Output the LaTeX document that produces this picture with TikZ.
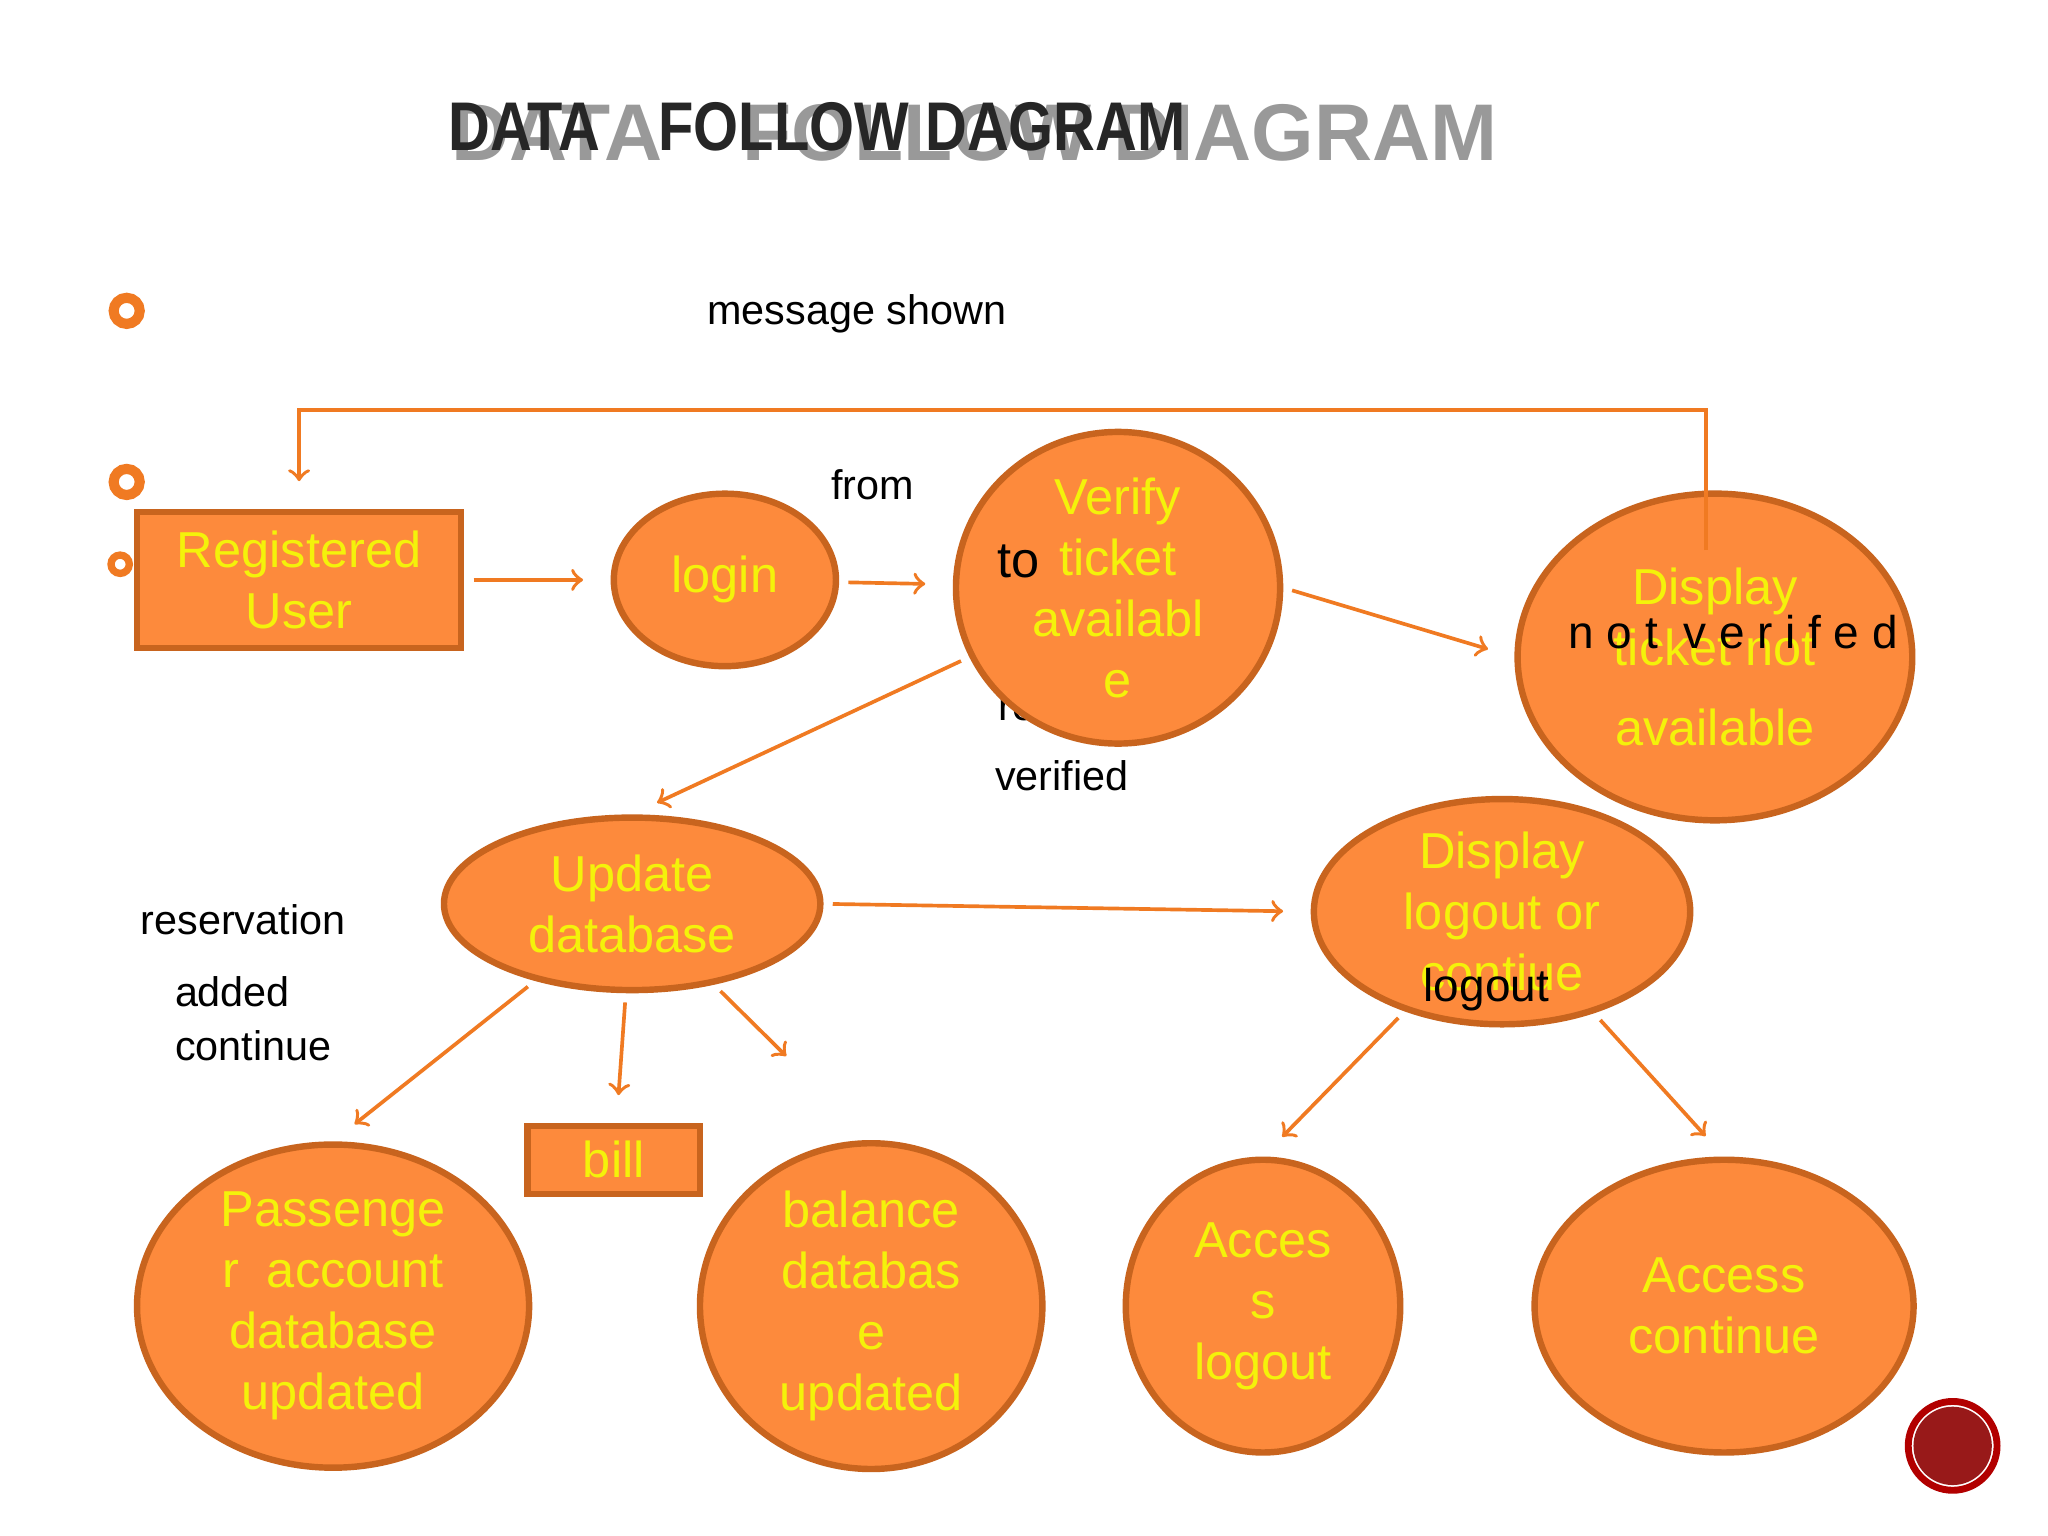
\documentclass[tikz,border=0pt]{standalone}
\usepackage{fontspec}
\setmainfont{Liberation Sans}
\usetikzlibrary{arrows,calc,shapes.geometric}
\definecolor{boxfill}{HTML}{FD8A3C}
\definecolor{boxline}{HTML}{C8641E}
\definecolor{flowline}{HTML}{F07A22}
\definecolor{boxtext}{HTML}{F4F20A}
\begin{document}
\begin{tikzpicture}[x=0.01cm, y=-0.01cm,
		every node/.style={font=\fontsize{11}{13.3}\selectfont},
		blob/.style={ellipse, fill=boxfill, draw=boxline, line width=1.4pt, text=boxtext, align=center, inner sep=0pt},
		slab/.style={rectangle, fill=boxfill, draw=boxline, line width=1.4pt, text=boxtext, align=center, inner sep=0pt},
		flow/.style={draw=flowline, line width=0.8pt, -to, shorten >=6pt, shorten <=2pt},
		note/.style={font=\fontsize{9}{11}\selectfont, text=black}]
			\fill[white] (0,0) rectangle (1568,1176);
			\useasboundingbox (0,0) rectangle (1568,1176);

			% title
			\node[text=gray!80, font=\fontsize{17.5}{18}\bfseries\selectfont, anchor=west] (titleB) at (333,102) {DATA\quad FOLLOW DIAGRAM};
			\node[text=black!85, font=\fontsize{15}{15}\bfseries\selectfont, anchor=west, xscale=0.84] (titleA) at (333,97) {DATA\quad FOLLOW DAGRAM};

			% bullets
			\draw[flowline, line width=2.2pt] (97,238) circle [radius=10];
			\draw[flowline, line width=2.2pt] (97,369) circle [radius=10];
			\draw[flowline, line width=1.6pt] (92,432) circle [radius=7];

			% notes behind the shapes
			\node[note] (tMsg) at (656,240) {message shown};
			\node[note] (tFrom) at (668,371) {from};
			\node[note] (tResv) at (843,540) {reservation};
			\node[note] (tVerified) at (813,594) {verified};
			\node[note] (tResv2) at (186,704) {reservation};
			\node[note] (tAdded) at (178,759) {added};
			\node[note] (tCont) at (194,801) {continue};

			% shapes
			\node[slab, minimum width=2.48cm, minimum height=1.04cm] (regUser) at (229,444) {Registered\\User};
			\node[blob, minimum width=1.70cm, minimum height=1.32cm] (login) at (555,444) {login};
			\node[blob, minimum width=2.48cm, minimum height=1.96cm] (verify) at (856,450) {Verify\\ ticket\\ availabl\\e};
			\node[blob, minimum width=3.02cm, minimum height=2.50cm] (notAvail) at (1313,503) {Display\\ ticket not\\[4pt] available};
			\node[blob, minimum width=2.88cm, minimum height=1.32cm] (update) at (484,692) {Update\\database};
			\node[blob, minimum width=2.88cm, minimum height=1.44cm] (logCont) at (1150,698) {Display\\logout or\\contiue};
			\node[blob, minimum width=3.00cm, minimum height=2.24cm] (passAcc) at (255,1000) {Passenge\\r\ \ account\\database\\updated};
			\node[slab, minimum width=1.32cm, minimum height=0.52cm] (bill) at (470,888) {bill};
			\node[blob, minimum width=2.62cm, minimum height=2.24cm] (balance) at (667,1000) {balance\\databas\\e\\updated};
			\node[blob, minimum width=2.10cm, minimum height=2.24cm] (accLogout) at (967,1000) {Acces\\s\\logout};
			\node[blob, minimum width=2.90cm, minimum height=2.24cm] (accCont) at (1320,1000) {Access\\continue};

			% notes over the shapes
			\node[note, font=\fontsize{11}{13}\selectfont] (tTo) at (780,430) {to};
			\node[note, font=\fontsize{10}{12}\selectfont] (tNotVer) at (1327,484) {n o t\ \ v e r i f e d};
			\node[note, font=\fontsize{10}{12}\selectfont] (tLogout) at (1138,758) {logout};

			% connectors
			\draw[flow] (regUser) -- (login);
			\draw[flow] (login) -- (verify);
			\draw[flow] (verify.east) -- (notAvail.west);
			\draw[flow] (verify) -- (update.north);
			\draw[flow] (update.east) -- (logCont.west);
			\draw[flow] (update) -- (passAcc.north);
			\draw[flow] (update) -- (bill);
			\draw[flow, shorten >=26pt] (update) -- (balance.north);
			\draw[flow] (logCont) -- (accLogout.north);
			\draw[flow] (logCont) -- (accCont.north);
			\coordinate (backTop) at (1306,314);
			\draw[flow, shorten <=0pt] ([yshift=-13]notAvail.north -| backTop) -- (backTop) -- (backTop -| regUser.north) -- (regUser.north);

			% corner badge
			\fill[red!55!black!90] (1495,1107) circle [radius=30];
			\draw[red!70!black, line width=1.5pt] (1495,1107) circle [radius=34];
\end{tikzpicture}
\end{document}
